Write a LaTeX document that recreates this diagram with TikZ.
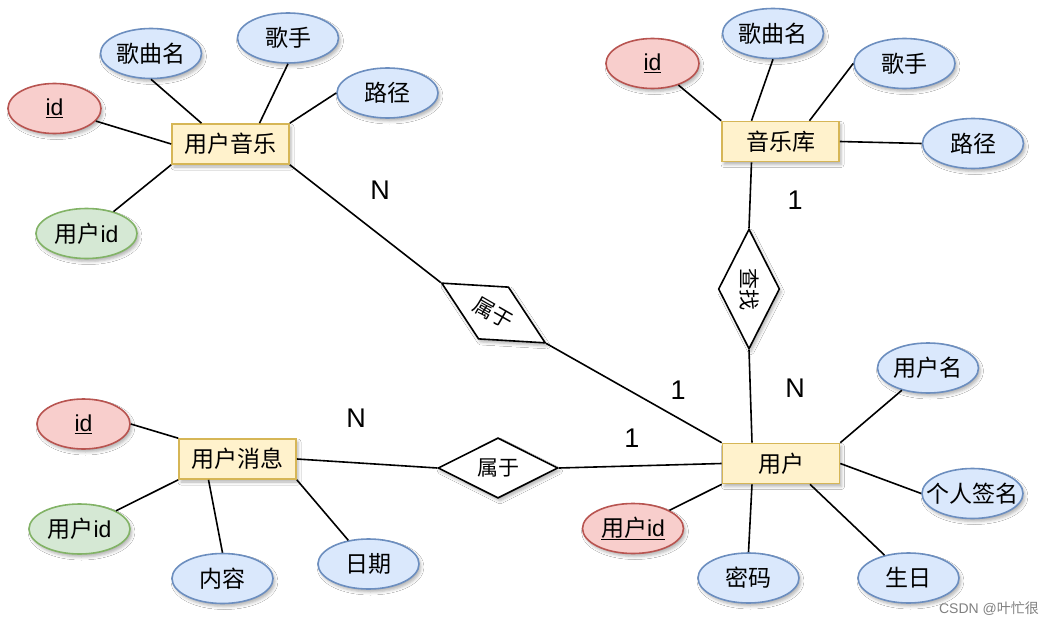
\documentclass[tikz,border=0pt]{standalone}
\usepackage{fontspec}
\setmainfont{Noto Sans CJK SC}
\newfontfamily\arialfont{Liberation Sans}
\usetikzlibrary{shapes.geometric,shadows.blur}

\definecolor{bluefill}{HTML}{DAE8FC}
\definecolor{bluedraw}{HTML}{6C8EBF}
\definecolor{redfill}{HTML}{F8CECC}
\definecolor{reddraw}{HTML}{B85450}
\definecolor{greenfill}{HTML}{D5E8D4}
\definecolor{greendraw}{HTML}{82B366}
\definecolor{yellowfill}{HTML}{FFF2CC}
\definecolor{yellowdraw}{HTML}{D6B656}

\begin{document}
\begin{tikzpicture}[x=1pt, y=-1pt, line width=1.6pt,
        boxshadow/.style={blur shadow={shadow xshift=2pt, shadow yshift=-3pt,
            shadow blur radius=3pt, shadow opacity=30}},
        entity/.style={rectangle, draw=yellowdraw, fill=yellowfill, boxshadow,
            minimum width=117pt, minimum height=40pt, inner sep=0pt,
            font=\fontsize{23}{27}\selectfont},
        attr/.style={ellipse, draw=bluedraw, fill=bluefill, boxshadow,
            minimum width=101pt, minimum height=50pt, inner sep=0pt,
            font=\fontsize{23}{27}\selectfont},
        pkey/.style={attr, draw=reddraw, fill=redfill, minimum width=93pt},
        fkey/.style={attr, draw=greendraw, fill=greenfill},
        rel/.style={diamond, draw, fill=white, boxshadow,
            minimum width=120pt, minimum height=60pt, inner sep=0pt,
            font=\fontsize{21}{25}\selectfont},
        card/.style={font=\arialfont\fontsize{27}{30}\selectfont}]
    \useasboundingbox[fill=white] (0,0) rectangle (1044,626);

    % entities
    \node[entity] (music) at (230.5,144) {用户音乐};
    \node[entity] (lib) at (780.5,141.5) {音乐库};
    \node[entity] (msg) at (237.5,459) {用户消息};
    \node[entity] (user) at (781,463.5) {用户};

    % relations
    \node[rel, rotate=-30] (belong1) at (493.5,313) {属于};
    \node[rel, rotate=-90] (find) at (749,289) {查找};
    \node[rel] (belong2) at (498,468) {属于};

    % attributes of 用户音乐
    \node[pkey] (music-id) at (54.5,108.5) {\arialfont\underline{id}};
    \node[attr] (music-name) at (151,53.5) {歌曲名};
    \node[attr] (music-singer) at (288,38) {歌手};
    \node[attr] (music-path) at (387.5,93) {路径};
    \node[fkey] (music-uid) at (86.5,233.5) {用户{\arialfont id}};

    % attributes of 音乐库
    \node[pkey] (lib-id) at (652.5,63.5) {\arialfont\underline{id}};
    \node[attr] (lib-name) at (773,33.5) {歌曲名};
    \node[attr] (lib-singer) at (904.5,63.5) {歌手};
    \node[attr] (lib-path) at (973,143.5) {路径};

    % attributes of 用户
    \node[attr] (user-name) at (928,368) {用户名};
    \node[attr] (user-sign) at (972.5,493.5) {\makebox[0pt]{个人签名}};
    \node[attr] (user-birth) at (908.5,578) {生日};
    \node[attr] (user-pwd) at (748.5,578) {密码};
    \node[pkey, minimum width=101pt] (user-id) at (633,528.5) {\underline{用户{\arialfont id}}};

    % attributes of 用户消息
    \node[pkey] (msg-id) at (83.5,424) {\arialfont\underline{id}};
    \node[fkey] (msg-uid) at (79.5,529) {用户{\arialfont id}};
    \node[attr] (msg-text) at (222.5,578.5) {内容};
    \node[attr] (msg-date) at (368.5,564) {日期};

    % connectors
    \draw (music-id) -- (music.west);
    \draw (music-name.south) -- ([xshift=-29pt]music.north);
    \draw (music-singer.south) -- ([xshift=29pt]music.north);
    \draw (music-path.west) -- (music.north east);
    \draw (music-uid) -- (music.south west);
    \draw (music.south east) -- (belong1.west);
    \draw (belong1.east) -- (user.north west);

    \draw (lib-id) -- (lib.north west);
    \draw (lib-name.south) -- ([xshift=-29pt]lib.north);
    \draw (lib-singer.west) -- ([xshift=29pt]lib.north);
    \draw (lib.east) -- (lib-path.west);
    \draw ([xshift=-29pt]lib.south) -- (find.west);
    \draw (find.east) -- ([xshift=-29pt]user.north);

    \draw (user.north east) -- (user-name);
    \draw (user.east) -- (user-sign.west);
    \draw ([xshift=29pt]user.south) -- (user-birth);
    \draw ([xshift=-29pt]user.south) -- (user-pwd.north);
    \draw (user.south west) -- (user-id);
    \draw (belong2.east) -- (user.west);

    \draw (msg-id.east) -- (msg.north west);
    \draw (msg-uid) -- (msg.south west);
    \draw ([xshift=-29pt]msg.south) -- (msg-text.north);
    \draw (msg.south east) -- (msg-date);
    \draw (msg.east) -- (belong2.west);

    % cardinalities
    \node[card] (card-n1) at (380,190) {N};
    \node[card] (card-c1) at (795,200) {1};
    \node[card] (card-c2) at (678,390) {1};
    \node[card] (card-n2) at (795,388) {N};
    \node[card] (card-n3) at (356,418) {N};
    \node[card] (card-c3) at (632,438) {1};

    \node[text=gray, font=\fontsize{14}{16}\selectfont] (mark) at (989,609)
        {{\arialfont CSDN @}叶忙很};
\end{tikzpicture}
\end{document}
